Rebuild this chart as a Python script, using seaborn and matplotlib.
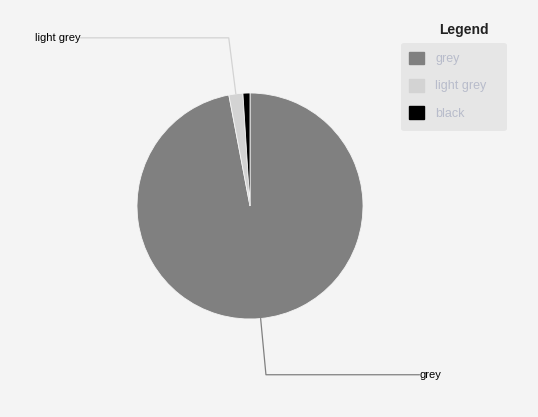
import numpy as np
import seaborn as sns
import matplotlib.pyplot as plt
from matplotlib.patches import Patch, FancyBboxPatch

# dados do grafico
categorias = ['grey', 'light grey', 'black']
valores = [97, 2, 1]
cores = ['#808080', '#d3d3d3', '#000000']
rotulos = ['grey', 'light grey']   # o preto nao tem rotulo

sns.set_theme(style='white')
plt.rcParams['font.family'] = ['Liberation Sans', 'DejaVu Sans']

W, H = 538, 417
fig = plt.figure(figsize=(W / 100, H / 100), dpi=100, facecolor='#f4f4f4')
ax = fig.add_axes([137 / W, 98 / H, 226 / W, 226 / H])
ax.set_facecolor('#f4f4f4')

wedges, _ = ax.pie(valores, colors=cores, startangle=90, counterclock=False,
                   radius=1, wedgeprops=dict(linewidth=0.6, edgecolor='#f4f4f4'))
ax.set_xlim(-1, 1)
ax.set_ylim(-1, 1)
ax.set_aspect('equal')
ax.axis('off')

# linhas de chamada
for w, nome, cor in zip(wedges, categorias, cores):
    if nome not in rotulos:
        continue
    ang = np.deg2rad((w.theta1 + w.theta2) / 2)
    p0 = np.array([np.cos(ang), np.sin(ang)])
    p1 = 1.5 * p0
    lado = 1 if p0[0] >= 0 else -1
    p2 = np.array([1.5 * lado, p1[1]])
    ax.plot([p0[0], p1[0], p2[0]], [p0[1], p1[1], p2[1]], color=cor, lw=0.9, clip_on=False)
    ax.text(p2[0], p2[1], nome, ha='left' if lado > 0 else 'right', va='center',
            fontsize=8, color='black', clip_on=False)

# legenda: caixa desenhada a parte
caixa = FancyBboxPatch((401 / W, 1 - 131 / H), 106 / W, 88 / H,
                       boxstyle='round,pad=0,rounding_size=0.006',
                       transform=fig.transFigure, facecolor='#e6e6e6', edgecolor='none')
fig.patches.append(caixa)
fig.text(464 / W, 1 - 30 / H, 'Legend', ha='center', va='center',
         fontsize=10, fontweight='bold', color='#222222')
handles = [Patch(facecolor=c, edgecolor=c, label=n) for n, c in zip(categorias, cores)]
leg = fig.legend(handles=handles, loc='upper left', bbox_to_anchor=(409 / W, 1 - 51.5 / H),
                 frameon=False, handlelength=1.2, handleheight=1.2, labelspacing=1.1,
                 borderpad=0, handletextpad=0.88, fontsize=9, borderaxespad=0)
for t in leg.get_texts():
    t.set_color('#b8bccb')

fig.savefig('out.png', dpi=100, facecolor=fig.get_facecolor())
